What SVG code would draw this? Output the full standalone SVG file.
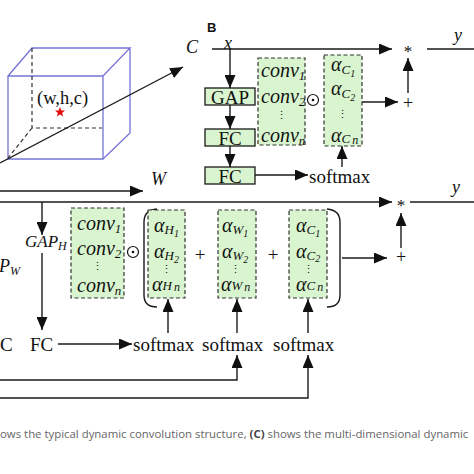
<svg xmlns="http://www.w3.org/2000/svg" width="474" height="474" viewBox="0 0 474 474">
<defs>
<marker id="ah" viewBox="0 0 13 11" markerWidth="13" markerHeight="11" markerUnits="userSpaceOnUse" refX="13" refY="5.5" orient="auto">
<path d="M0,0 L13,5.5 L0,11 z" fill="#111"/>
</marker>
<style>
.ln{stroke:#1a1a1a;stroke-width:1.4;fill:none}
.ar{stroke:#1a1a1a;stroke-width:1.4;fill:none;marker-end:url(#ah)}
.cube{stroke:#7474d8;stroke-width:1.3;fill:none}
.cdash{stroke:#333;stroke-width:1.2;fill:none;stroke-dasharray:4,3}
.box{fill:#d9f5cf;stroke:#1a1a1a;stroke-width:1.3}
.dbox{fill:#d9f5cf;stroke:#333;stroke-width:1.2;stroke-dasharray:4,2.5}
.t{font-family:"Liberation Serif","Times New Roman",serif;fill:#111}
.it{font-family:"Liberation Serif","Times New Roman",serif;font-style:italic;fill:#111}
.dots{font-family:"DejaVu Serif",serif;fill:#111;font-size:11px}
.cap{font-family:"Open Sans",sans-serif;fill:#666;font-size:11.4px}
</style>
</defs>
<rect width="474" height="474" fill="#fff"/>

<g id="cube">
<path class="cube" d="M8,76 L103,76 L103,159 L8,159 Z M8,76 L32,48 L130,48 L103,76 M130,48 L130,133 L103,159"/>
<path class="cdash" d="M32,48 L32,128 L102,128 M32,128 L8,158"/>
<text class="t" x="37" y="104" font-size="18.5">(w,h,c)</text>
<polygon points="60,107 61.4,110.4 65,110.6 62.2,112.9 63.1,116.4 60,114.4 56.9,116.4 57.8,112.9 55,110.6 58.6,110.4" fill="#e01010"/>
</g>

<g id="axes">
<line class="ar" x1="0" y1="163" x2="183" y2="67"/>
<text class="it" x="186" y="53" font-size="18">C</text>
<line class="ar" x1="0" y1="191" x2="143" y2="191"/>
<text class="it" x="151" y="185" font-size="18">W</text>
</g>

<text id="labelB" x="207" y="32" font-family="Liberation Sans,Arial,sans-serif" font-weight="bold" font-size="13" fill="#111">B</text>

<g id="connectors">
<line class="ar" x1="212" y1="49" x2="392" y2="49"/>
<line class="ln" x1="427" y1="49" x2="474" y2="49"/>
<line class="ar" x1="230" y1="49" x2="230" y2="88"/>
<line class="ar" x1="230" y1="105" x2="230" y2="129"/>
<line class="ar" x1="230" y1="146" x2="230" y2="167"/>
<line class="ar" x1="255" y1="175" x2="308" y2="175"/>
<line class="ar" x1="362" y1="102" x2="398" y2="102"/>
<line class="ar" x1="408" y1="93" x2="408" y2="58"/>
<line class="ar" x1="342" y1="167" x2="342" y2="146"/>

<line class="ar" x1="0" y1="202" x2="392" y2="202"/>
<line class="ln" x1="410" y1="202" x2="474" y2="202"/>
<line class="ar" x1="42" y1="202" x2="42" y2="235"/>
<line class="ar" x1="42" y1="253" x2="42" y2="330"/>
<line class="ar" x1="58" y1="344" x2="132" y2="344"/>
<line class="ar" x1="168" y1="333" x2="168" y2="299"/>
<line class="ar" x1="237" y1="333" x2="237" y2="299"/>
<line class="ar" x1="308" y1="333" x2="308" y2="299"/>
<line class="ar" x1="342" y1="258" x2="387" y2="258"/>
<line class="ar" x1="401" y1="248" x2="401" y2="213"/>
<polyline class="ar" points="0,380 237,380 237,355"/>
<polyline class="ar" points="0,398 308,398 308,355"/>
<path class="ln" d="M157,209 Q144,210 144,222 L144,295 Q144,307 157,307"/>
<path class="ln" d="M327,209 Q340,210 340,222 L340,295 Q340,307 327,307"/>
</g>

<g id="x-in">
<text class="it" x="224" y="49" font-size="18">x</text>
</g>
<g id="mul-top"><text class="t" x="408" y="57" font-size="17" text-anchor="middle">*</text></g>
<g id="y-top"><text class="it" x="454" y="41" font-size="18">y</text></g>

<g id="gap"><rect class="box" x="205" y="88" width="50" height="17"/><text class="t" x="230" y="104" font-size="19" text-anchor="middle">GAP</text></g>
<g id="fc1"><rect class="box" x="205" y="129" width="50" height="17"/><text class="t" x="230" y="145" font-size="19" text-anchor="middle">FC</text></g>
<g id="fc2"><rect class="box" x="205" y="167" width="50" height="17"/><text class="t" x="230" y="183" font-size="19" text-anchor="middle">FC</text></g>
<g id="softmax-top"><text class="t" x="309" y="183" font-size="19">softmax</text></g>

<g id="conv-top">
<rect class="dbox" x="258" y="58" width="47" height="87"/>
<text class="it" x="261" y="77" font-size="20">conv<tspan font-size="13" dy="3">1</tspan></text>
<text class="it" x="261" y="103" font-size="20">conv<tspan font-size="13" dy="3">2</tspan></text>
<text class="dots" x="281" y="119" text-anchor="middle">⋮</text>
<text class="it" x="261" y="142" font-size="20">conv<tspan font-size="13" dy="3">n</tspan></text>
</g>
<g id="odot-top"><circle cx="313" cy="100" r="5.5" fill="none" stroke="#111" stroke-width="1.2"/><circle cx="313" cy="100" r="1.3" fill="#111"/></g>

<g id="alpha-top">
<rect class="dbox" x="324" y="55" width="38" height="91"/>
<text class="it" x="331" y="71" font-size="20">α<tspan font-size="13" dy="3">C</tspan><tspan font-size="10" dy="3">1</tspan></text>
<text class="it" x="331" y="95" font-size="20">α<tspan font-size="13" dy="3">C</tspan><tspan font-size="10" dy="3">2</tspan></text>
<text class="dots" x="342" y="118" text-anchor="middle">⋮</text>
<text class="it" x="331" y="142" font-size="20">α<tspan font-size="13" dy="1">C</tspan><tspan font-size="12" dy="1" dx="2">n</tspan></text>
</g>
<g id="plus-top"><text class="t" x="408" y="109" font-size="18" text-anchor="middle">+</text></g>

<g id="mul-mid"><text class="t" x="401" y="211" font-size="17" text-anchor="middle">*</text></g>
<g id="y-mid"><text class="it" x="452" y="193" font-size="18">y</text></g>

<g id="gapw-partial"><text class="it" x="-1" y="272" font-size="18">P<tspan font-size="12" dy="3">W</tspan></text></g>
<g id="fc-partial"><text class="t" x="0" y="351" font-size="19">C</text></g>
<g id="gaph"><text class="it" x="25" y="247" font-size="17">GAP<tspan font-size="12" dy="3">H</tspan></text></g>
<g id="fc-mid"><text class="t" x="30" y="351" font-size="19">FC</text></g>

<g id="conv-mid">
<rect class="dbox" x="71" y="208" width="53" height="90"/>
<text class="it" x="77" y="230" font-size="20">conv<tspan font-size="13" dy="3">1</tspan></text>
<text class="it" x="77" y="255" font-size="20">conv<tspan font-size="13" dy="3">2</tspan></text>
<text class="dots" x="97" y="270" text-anchor="middle">⋮</text>
<text class="it" x="77" y="292" font-size="20">conv<tspan font-size="13" dy="3">n</tspan></text>
</g>
<g id="odot-mid"><circle cx="133" cy="252" r="5.5" fill="none" stroke="#111" stroke-width="1.2"/><circle cx="133" cy="252" r="1.3" fill="#111"/></g>

<g id="alpha-h">
<rect class="dbox" x="148" y="210" width="37" height="88"/>
<text class="it" x="154" y="232" font-size="20">α<tspan font-size="13" dy="2">H</tspan><tspan font-size="10" dy="3">1</tspan></text>
<text class="it" x="154" y="258" font-size="20">α<tspan font-size="13" dy="2">H</tspan><tspan font-size="10" dy="3">2</tspan></text>
<text class="dots" x="166" y="273" text-anchor="middle">⋮</text>
<text class="it" x="152" y="291" font-size="20">α<tspan font-size="13" dy="-1">H</tspan><tspan font-size="12" dy="1" dx="2">n</tspan></text>
</g>
<g id="plus-1"><text class="t" x="200" y="261" font-size="19" text-anchor="middle">+</text></g>
<g id="alpha-w">
<rect class="dbox" x="218" y="210" width="38" height="88"/>
<text class="it" x="222" y="232" font-size="20">α<tspan font-size="13" dy="2">W</tspan><tspan font-size="10" dy="3">1</tspan></text>
<text class="it" x="222" y="258" font-size="20">α<tspan font-size="13" dy="2">W</tspan><tspan font-size="10" dy="3">2</tspan></text>
<text class="dots" x="235" y="273" text-anchor="middle">⋮</text>
<text class="it" x="221" y="291" font-size="20">α<tspan font-size="13" dy="-1">W</tspan><tspan font-size="12" dy="1" dx="2">n</tspan></text>
</g>
<g id="plus-2"><text class="t" x="273" y="261" font-size="19" text-anchor="middle">+</text></g>
<g id="alpha-c">
<rect class="dbox" x="289" y="210" width="38" height="88"/>
<text class="it" x="296" y="232" font-size="20">α<tspan font-size="13" dy="2">C</tspan><tspan font-size="10" dy="3">1</tspan></text>
<text class="it" x="296" y="258" font-size="20">α<tspan font-size="13" dy="2">C</tspan><tspan font-size="10" dy="2">2</tspan></text>
<text class="dots" x="308" y="273" text-anchor="middle">⋮</text>
<text class="it" x="296" y="291" font-size="20">α<tspan font-size="13" dy="-1">C</tspan><tspan font-size="12" dy="1" dx="2">n</tspan></text>
</g>
<g id="plus-mid"><text class="t" x="401" y="263" font-size="18" text-anchor="middle">+</text></g>

<g id="softmax-1"><text class="t" x="133" y="351" font-size="19">softmax</text></g>
<g id="softmax-2"><text class="t" x="202" y="351" font-size="19">softmax</text></g>
<g id="softmax-3"><text class="t" x="273" y="351" font-size="19">softmax</text></g>

<text class="cap" x="0" y="438">ows the typical dynamic convolution structure, <tspan font-weight="bold" fill="#444">(C)</tspan> shows the multi-dimensional dynamic</text>
</svg>
